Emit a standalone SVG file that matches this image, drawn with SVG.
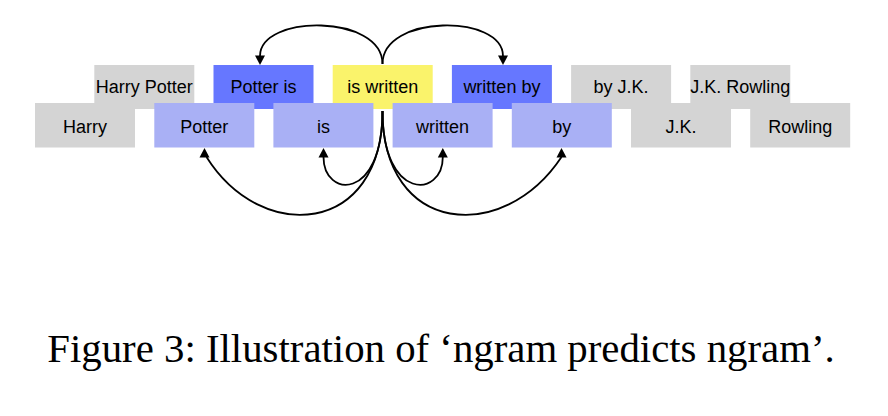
<svg xmlns="http://www.w3.org/2000/svg" width="888" height="416" viewBox="0 0 888 416">
<style>
.g{fill:#d4d4d4}
.d{fill:#6677ff}
.l{fill:#a9b0f5}
.y{fill:#faf36b}
.t{font-family:"Liberation Sans",Arial,sans-serif;font-size:18px;fill:#000;text-anchor:middle}
.c{fill:none;stroke:#000;stroke-width:1.8}
.cap{font-family:"Liberation Serif","Times New Roman",serif;font-size:40.8px;fill:#000;text-anchor:middle}
</style>
<defs>
<path id="up" d="M0,0 L-5,9.5 L5,9.5 Z" fill="#000"/>
<path id="down" d="M0,0 L-5,-9.5 L5,-9.5 Z" fill="#000"/>
</defs>
<rect width="888" height="416" fill="#fff"/>
<g id="top-row">
<g id="n-harry-potter"><rect class="g" x="94.3" y="65" width="100" height="44"/><text class="t" x="144.3" y="93">Harry Potter</text></g>
<g id="n-potter-is"><rect class="d" x="213.5" y="65" width="100" height="44"/><text class="t" x="263.5" y="93">Potter is</text></g>
<g id="n-is-written"><rect class="y" x="332.7" y="65" width="100" height="44"/><text class="t" x="382.7" y="93">is written</text></g>
<g id="n-written-by"><rect class="d" x="451.9" y="65" width="100" height="44"/><text class="t" x="501.9" y="93">written by</text></g>
<g id="n-by-jk"><rect class="g" x="571.1" y="65" width="100" height="44"/><text class="t" x="621.1" y="93">by J.K.</text></g>
<g id="n-jk-rowling"><rect class="g" x="690.3" y="65" width="100" height="44"/><text class="t" x="740.3" y="93">J.K. Rowling</text></g>
</g>
<g id="bottom-row">
<g id="n-harry"><rect class="g" x="35" y="103" width="100" height="44.5"/><text class="t" x="85" y="133.3">Harry</text></g>
<g id="n-potter"><rect class="l" x="154.3" y="103" width="100" height="44.5"/><text class="t" x="204.3" y="133.3">Potter</text></g>
<g id="n-is"><rect class="l" x="273.4" y="103" width="100" height="44.5"/><text class="t" x="323.4" y="133.3">is</text></g>
<g id="n-written"><rect class="l" x="392.6" y="103" width="100" height="44.5"/><text class="t" x="442.6" y="133.3">written</text></g>
<g id="n-by"><rect class="l" x="511.8" y="103" width="100" height="44.5"/><text class="t" x="561.8" y="133.3">by</text></g>
<g id="n-jk"><rect class="g" x="631" y="103" width="100" height="44.5"/><text class="t" x="681" y="133.3">J.K.</text></g>
<g id="n-rowling"><rect class="g" x="750.2" y="103" width="100" height="44.5"/><text class="t" x="800.2" y="133.3">Rowling</text></g>
</g>
<g id="connectors">
<path class="c" d="M382.5,64 C382.5,14 260,14 260,56"/>
<path class="c" d="M382.5,64 C382.5,14 503,14 503,56"/>
<use href="#down" x="260" y="65"/>
<use href="#down" x="503" y="65"/>
<path class="c" d="M382.5,111 C382.5,235 262,245 206.5,157"/>
<path class="c" d="M382.5,111 C382.5,202 323.5,198 323.5,157"/>
<path class="c" d="M382.5,111 C382.5,202 442.8,198 442.8,157"/>
<path class="c" d="M382.5,111 C382.5,235 503,245 561.5,157"/>
<use href="#up" x="204.5" y="148"/>
<use href="#up" x="323.5" y="148"/>
<use href="#up" x="442.8" y="148"/>
<use href="#up" x="561.5" y="148"/>
</g>
<text class="cap" x="441" y="362">Figure 3: Illustration of ‘ngram predicts ngram’.</text>
</svg>
